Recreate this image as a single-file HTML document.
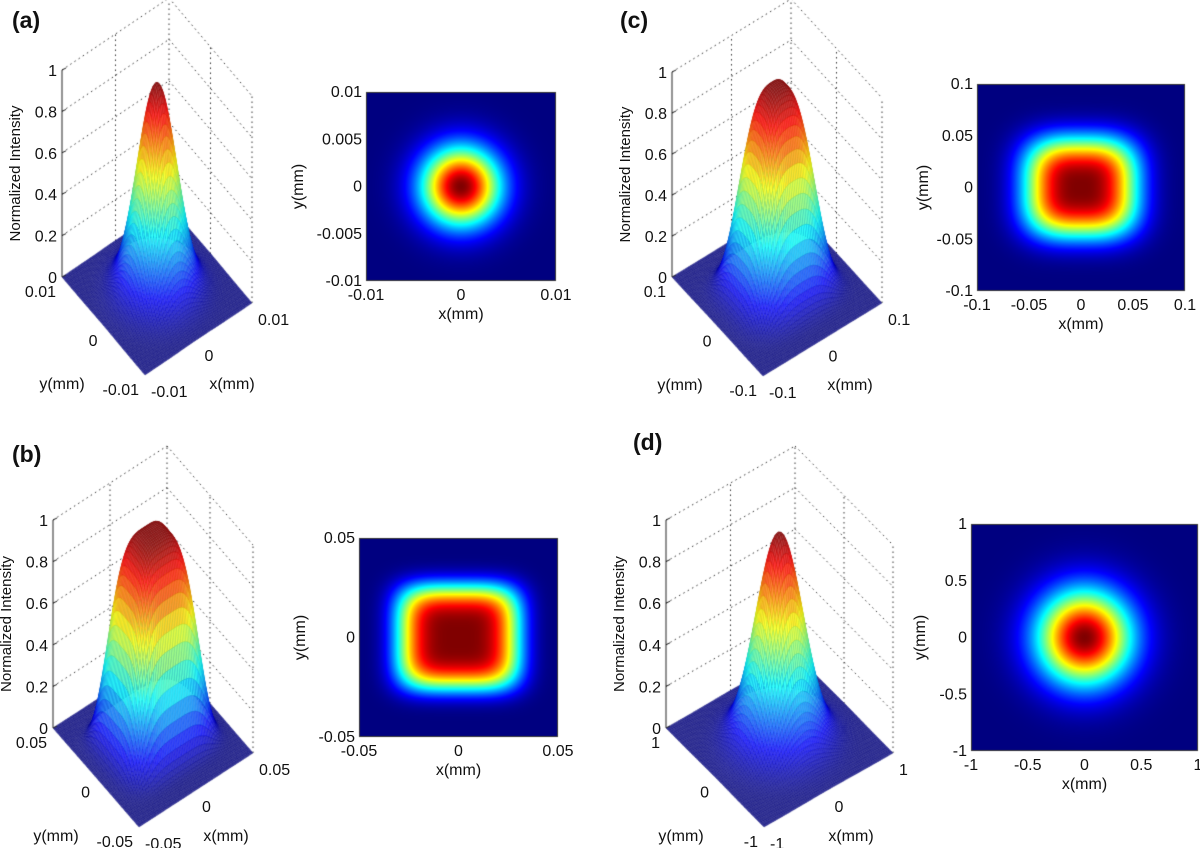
<!DOCTYPE html>
<html><head><meta charset="utf-8">
<style>
html,body{margin:0;padding:0;background:#fff;}
#wrap{position:relative;width:1200px;height:848px;overflow:hidden;font-family:"Liberation Sans",Arial,sans-serif;}
canvas,svg{position:absolute;left:0;top:0;}
svg text{font-family:"Liberation Sans",Arial,sans-serif;fill:#111;}
</style></head>
<body>
<div id="wrap">
<canvas id="cv" width="1200" height="848"></canvas>
<svg id="sv" width="1200" height="848"></svg>
</div>
<script>
// ---- data ----
const panelLabels = ['(a)','(b)','(c)','(d)'];
const axisMax = [0.01, 0.05, 0.1, 1];
const axisTickText3D = [['-0.01','0','0.01'],['-0.05','0','0.05'],['-0.1','0','0.1'],['-1','0','1']];
const zTicks = [0,0.2,0.4,0.6,0.8,1];
const xTicks2D = [[-0.01,0,0.01],[-0.05,0,0.05],[-0.1,-0.05,0,0.05,0.1],[-1,-0.5,0,0.5,1]];
const xTickText2D = [['-0.01','0','0.01'],['-0.05','0','0.05'],['-0.1','-0.05','0','0.05','0.1'],['-1','-0.5','0','0.5','1']];
const yTicks2D = [[-0.01,-0.005,0,0.005,0.01],[-0.05,0,0.05],[-0.1,-0.05,0,0.05,0.1],[-1,-0.5,0,0.5,1]];
const yTickText2D = [['-0.01','-0.005','0','0.005','0.01'],['-0.05','0','0.05'],['-0.1','-0.05','0','0.05','0.1'],['-1','-0.5','0','0.5','1']];
const beamWx = [0.0058, 0.0365, 0.068, 0.58];
const beamWy = [0.0058, 0.031, 0.06, 0.58];
const beamOrder = [2, 4, 3, 2];
const beamPeak = [1, 1, 1, 1];

// ---- layout ----
const geo3D = [
 {L:[62,277],B:[145,375],R:[252,303],H:207,lab:[12,28]},
 {L:[53,728],B:[139,827],R:[253,753],H:208,lab:[12,462]},
 {L:[672,277],B:[763,376],R:[882,303],H:205,lab:[620,28]},
 {L:[666,728],B:[764,827],R:[893,753],H:208,lab:[633,450]}
];
const geo2D = [
 {x:366,y:92,w:190,h:189,yl:-63},
 {x:359,y:538,w:199,h:199,yl:-54},
 {x:977,y:84,w:208,h:207,yl:-49},
 {x:971,y:524,w:227,h:227,yl:-46}
];

function intensity(p, x, y){
  const n = beamOrder[p];
  return beamPeak[p]*Math.exp(-2*Math.pow(Math.abs(x)/beamWx[p], n))*Math.exp(-2*Math.pow(Math.abs(y)/beamWy[p], n));
}
function jet(v){
  v=Math.max(0,Math.min(1,v));
  const f=t=>Math.max(0,Math.min(1,t));
  return [f(1.5-Math.abs(4*v-3))*255, f(1.5-Math.abs(4*v-2))*255, f(1.5-Math.abs(4*v-1))*255];
}
const ctx = document.getElementById('cv').getContext('2d');
const svg = document.getElementById('sv');
const NS='http://www.w3.org/2000/svg';
function txt(x,y,s,anchor,size,name,extra){
  const t=document.createElementNS(NS,'text');
  t.setAttribute('x',x);t.setAttribute('y',y);
  t.setAttribute('text-anchor',anchor||'middle');
  t.setAttribute('font-size',size||16);
  if(extra) for(const k in extra) t.setAttribute(k,extra[k]);
  t.textContent=s;
  
  
  svg.appendChild(t);
  return t;
}

for(let p=0;p<4;p++){
  const g=geo3D[p], M=axisMax[p];
  const P=(u,v,z)=>[g.B[0]+(u+1)/2*(g.R[0]-g.B[0])+(v+1)/2*(g.L[0]-g.B[0]),
                    g.B[1]+(u+1)/2*(g.R[1]-g.B[1])+(v+1)/2*(g.L[1]-g.B[1])-z*g.H];
  ctx.save();ctx.strokeStyle='#333';ctx.lineWidth=1;ctx.setLineDash([1.5,3.5]);
  const line=(a,b)=>{ctx.beginPath();ctx.moveTo(a[0],a[1]);ctx.lineTo(b[0],b[1]);ctx.stroke();};
  zTicks.forEach(z=>{ if(z>0){ line(P(-1,1,z),P(1,1,z)); line(P(1,1,z),P(1,-1,z)); } });
  [0,1].forEach(u=>line(P(u,1,0),P(u,1,1)));
  [0,-1].forEach(v=>line(P(1,v,0),P(1,v,1)));
  ctx.restore();
  const N=70;
  const quads=[];
  for(let i=0;i<N;i++)for(let j=0;j<N;j++){
    const u0=-1+2*i/N,u1=-1+2*(i+1)/N,v0=-1+2*j/N,v1=-1+2*(j+1)/N;
    const z00=intensity(p,u0*M,v0*M),z10=intensity(p,u1*M,v0*M),z11=intensity(p,u1*M,v1*M),z01=intensity(p,u0*M,v1*M);
    quads.push({d:u0+v0,pts:[P(u0,v0,z00),P(u1,v0,z10),P(u1,v1,z11),P(u0,v1,z01)],z:(z00+z10+z11+z01)/4});
  }
  quads.sort((a,b)=>b.d-a.d);
  quads.forEach(q=>{
    const c=jet(q.z), m=0.22;
    const col='rgb('+Math.round(c[0]*(1-m)+255*m)+','+Math.round(c[1]*(1-m)+255*m)+','+Math.round(c[2]*(1-m)+255*m)+')';
    const dk='rgb('+Math.round(c[0]*0.85)+','+Math.round(c[1]*0.85)+','+Math.round(c[2]*0.85)+')';
    ctx.fillStyle=col;ctx.strokeStyle=dk;ctx.lineWidth=0.35;
    ctx.beginPath();ctx.moveTo(q.pts[0][0],q.pts[0][1]);for(let k=1;k<4;k++)ctx.lineTo(q.pts[k][0],q.pts[k][1]);ctx.closePath();ctx.fill();ctx.stroke();
  });
  ctx.strokeStyle='#222';ctx.lineWidth=1;ctx.setLineDash([]);
  const zb=P(-1,1,0), zt=P(-1,1,1);
  ctx.beginPath();ctx.moveTo(zb[0],zb[1]);ctx.lineTo(zt[0],zt[1]);ctx.stroke();
  zTicks.forEach(z=>{const q=P(-1,1,z);ctx.beginPath();ctx.moveTo(q[0],q[1]);ctx.lineTo(q[0]+4,q[1]-2);ctx.stroke();
    txt(q[0]-5,q[1]+6,String(z),'end',16,'z-tick-label');});
  txt(zb[0]-42,(zb[1]+zt[1])/2,'Normalized Intensity','middle',15,'z-axis-title',{transform:'rotate(-90 '+(zb[0]-42)+' '+((zb[1]+zt[1])/2)+')'});
  [-1,0,1].forEach((v,k)=>{const q=P(-1,v,0);txt(q[0]-6,q[1]+20,axisTickText3D[p][k],'end',16,'y-tick-label');});
  [-1,0,1].forEach((u,k)=>{const q=P(u,-1,0);txt(q[0]+6,q[1]+22,axisTickText3D[p][k],'start',16,'x-tick-label');});
  txt(g.B[0]-83,g.B[1]+14,'y(mm)','middle',16,'y-axis-title');
  txt(g.B[0]+87,g.B[1]+14,'x(mm)','middle',16,'x-axis-title');
  txt(g.lab[0],g.lab[1],panelLabels[p],'start',23,'panel-label',{'font-weight':'bold'});

  const r=geo2D[p];
  const img=ctx.createImageData(r.w,r.h);
  for(let yy=0;yy<r.h;yy++)for(let xx=0;xx<r.w;xx++){
    const X=(-1+2*(xx+0.5)/r.w)*M, Y=(1-2*(yy+0.5)/r.h)*M;
    const c=jet(intensity(p,X,Y));const o=(yy*r.w+xx)*4;
    img.data[o]=c[0];img.data[o+1]=c[1];img.data[o+2]=c[2];img.data[o+3]=255;
  }
  ctx.putImageData(img,r.x,r.y);
  ctx.strokeStyle='#333';ctx.lineWidth=1;ctx.strokeRect(r.x+0.5,r.y+0.5,r.w-1,r.h-1);
  xTicks2D[p].forEach((v,k)=>txt(r.x+(v/M+1)/2*r.w,r.y+r.h+19,xTickText2D[p][k],'middle',16,'heatmap-x-tick'));
  yTicks2D[p].forEach((v,k)=>txt(r.x-4,r.y+(1-v/M)/2*r.h+5,yTickText2D[p][k],'end',16,'heatmap-y-tick'));
  txt(r.x+r.w/2,r.y+r.h+38,'x(mm)','middle',16,'heatmap-x-title');
  const yx=r.x+r.yl, yy=r.y+r.h/2;
  txt(yx,yy,'y(mm)','middle',16,'heatmap-y-title',{transform:'rotate(-90 '+yx+' '+yy+')'});
}
</script>
</body></html>
